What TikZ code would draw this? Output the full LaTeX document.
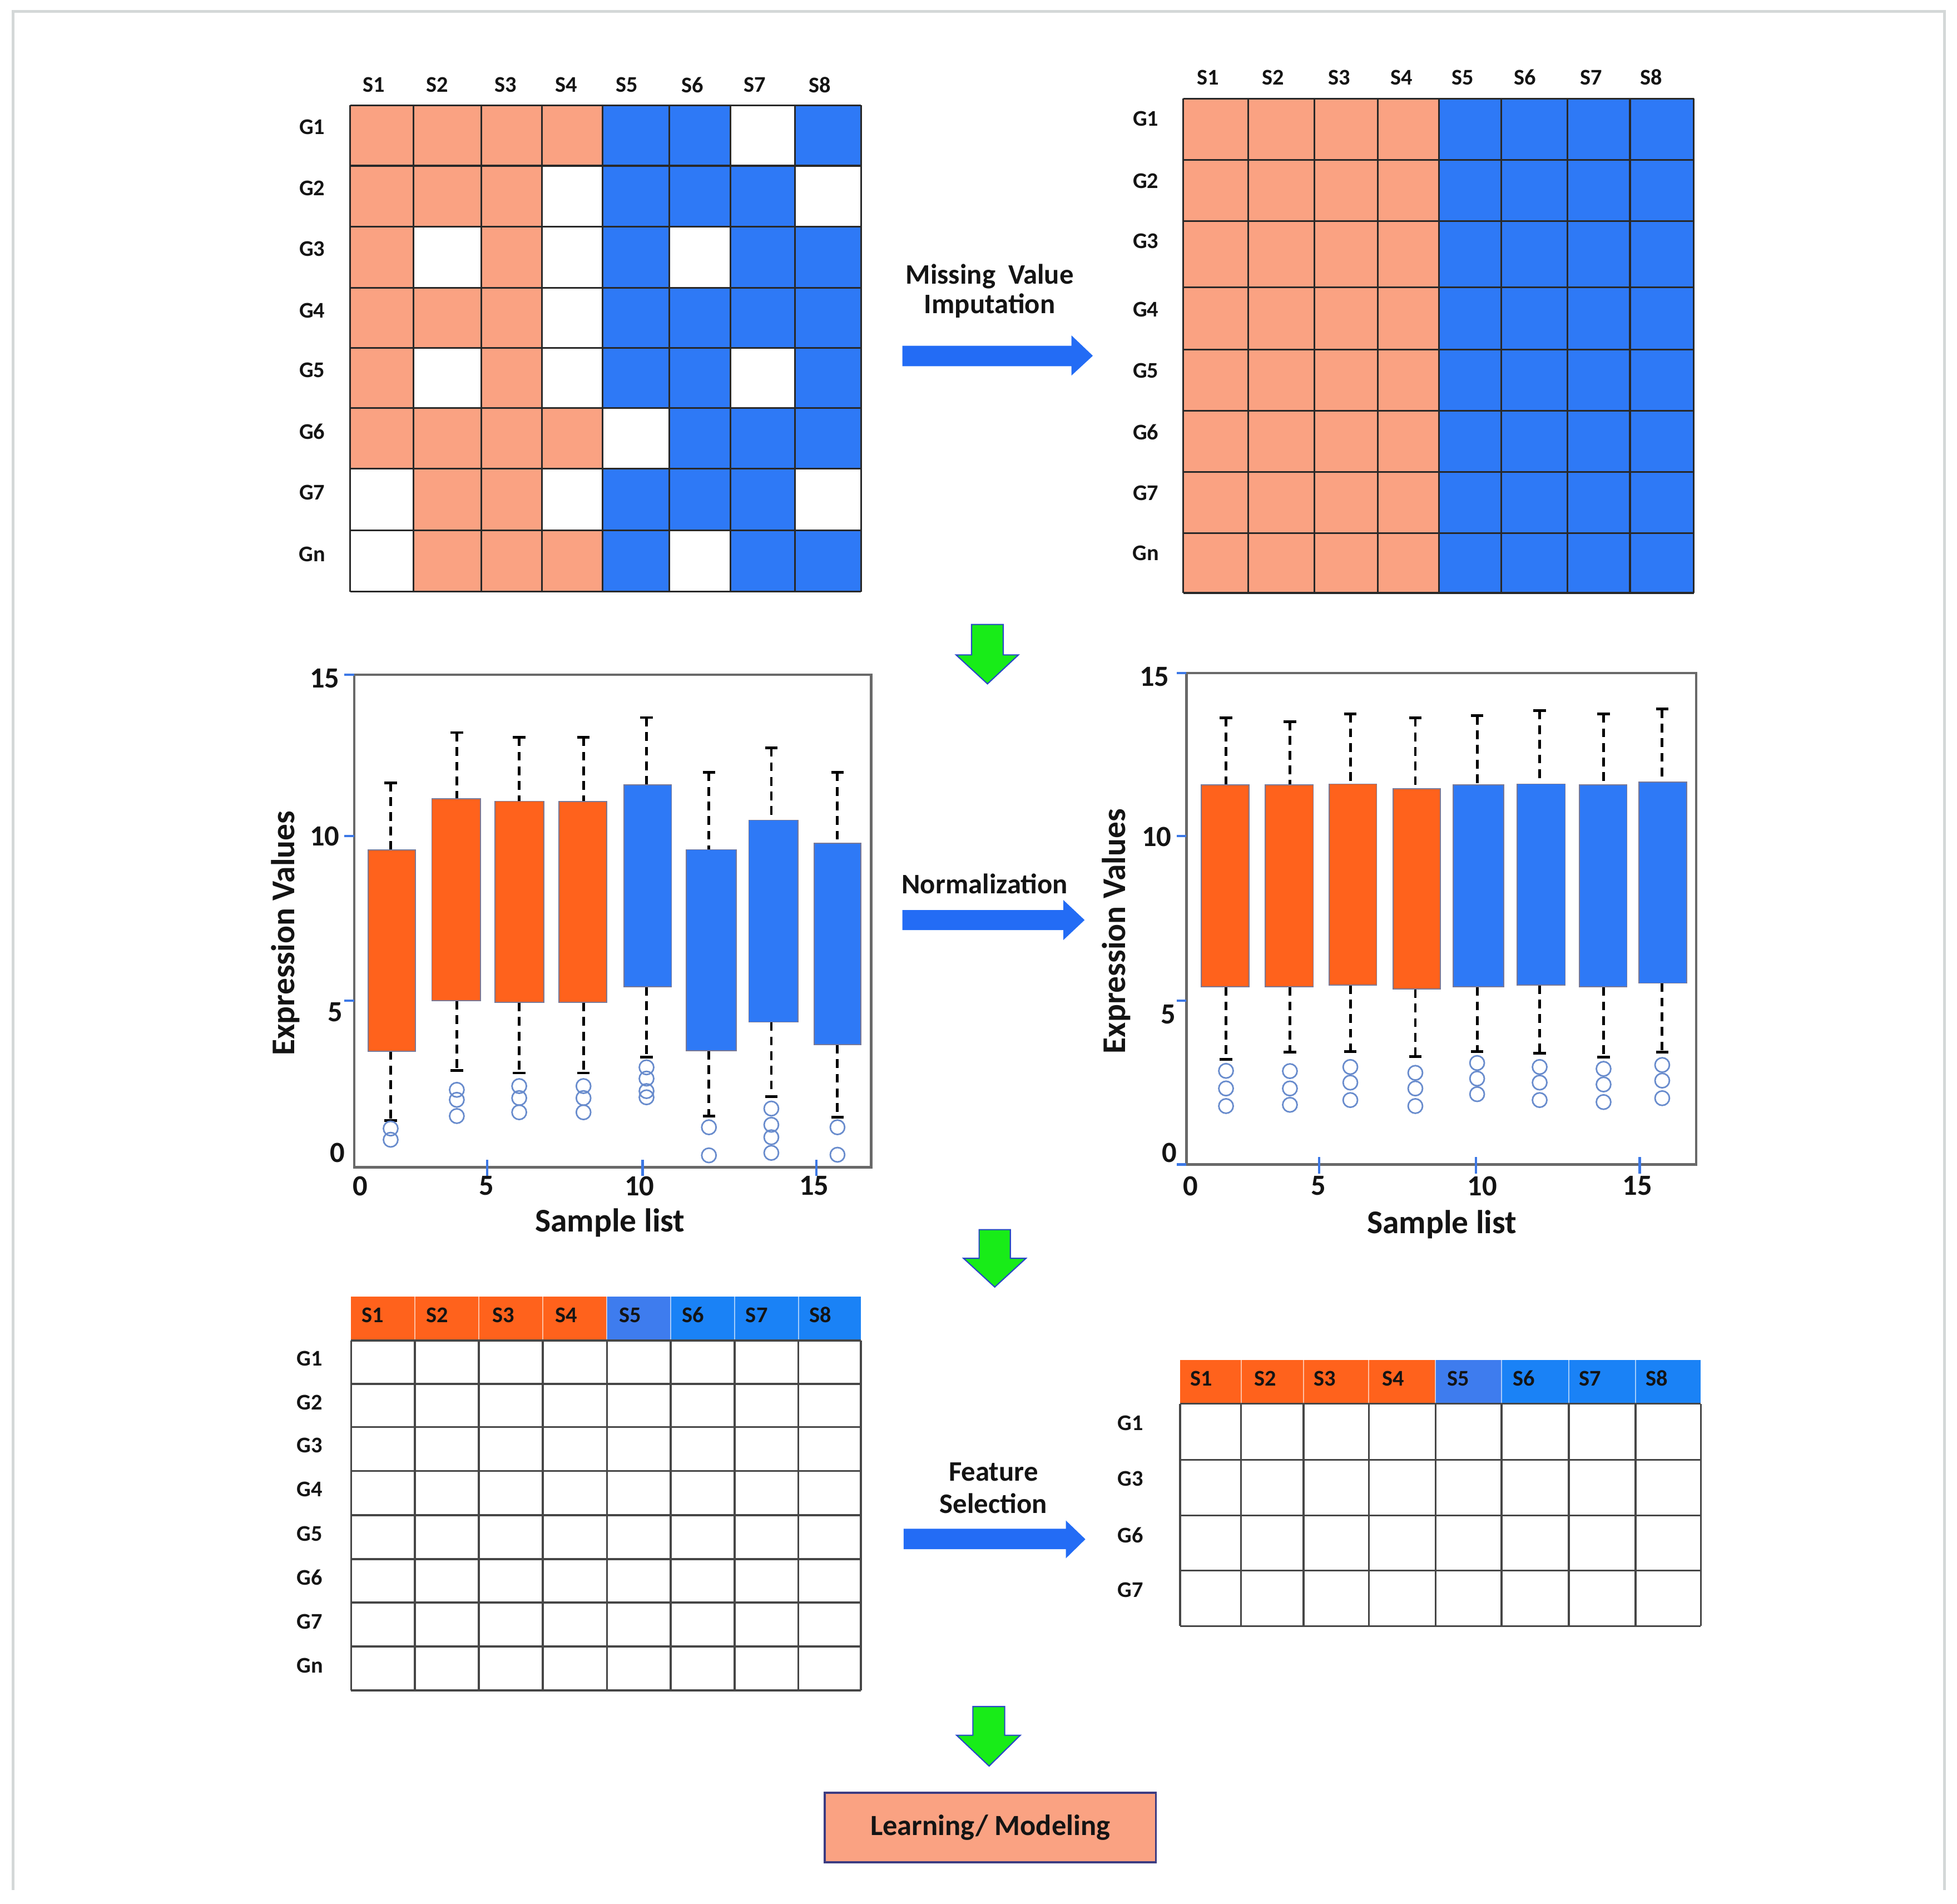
\documentclass[tikz,border=0pt]{standalone}
\usepackage{fontspec}
\setmainfont{Carlito}
\definecolor{salmon}{RGB}{250,162,130}
\definecolor{mblue}{RGB}{46,121,246}
\definecolor{borange}{RGB}{255,98,28}
\definecolor{hblueA}{RGB}{62,124,238}
\definecolor{hblueB}{RGB}{26,130,246}
\definecolor{arrblue}{RGB}{35,108,245}
\definecolor{agreen}{RGB}{24,236,24}
\definecolor{agreenedge}{RGB}{40,70,200}
\definecolor{gridc}{RGB}{40,40,40}
\definecolor{tgrid}{RGB}{70,70,70}
\definecolor{framec}{RGB}{212,216,216}
\definecolor{plotframe}{RGB}{105,105,105}
\definecolor{tickblue}{RGB}{60,120,230}
\definecolor{outc}{RGB}{105,140,205}
\definecolor{boxedge}{RGB}{120,120,150}
\definecolor{txt}{RGB}{20,20,20}
\definecolor{lmedge}{RGB}{60,60,130}
\newcommand{\myboxplot}[9]{%
  \draw[whisk] (#7,#5) -- (#7,#3);
  \draw[whisk] (#7,#4) -- (#7,#6);
  \draw[wcap] (#7-5,#5) -- (#7+5,#5);
  \draw[wcap] (#7-5,#6) -- (#7+5,#6);
  \filldraw[fill=#8, draw=boxedge, line width=0.5pt] (#1,#3) rectangle (#2,#4);
  \foreach \oy in {#9} \draw[outl] (#7,\oy) circle[radius=3.7pt];
}
\begin{document}
\begin{tikzpicture}[x=0.0225cm,y=-0.0225cm,
  lbl/.style={font=\fontsize{11.5}{12}\selectfont\bfseries, inner sep=0pt, text=txt},
  albl/.style={font=\fontsize{14.5}{16}\selectfont\bfseries, inner sep=0pt, text=txt},
  axl/.style={font=\fontsize{17}{19}\selectfont\bfseries, inner sep=0pt, text=txt},
  tkl/.style={font=\fontsize{15}{17}\selectfont\bfseries, inner sep=0pt, text=txt},
  grid1/.style={draw=gridc, line width=0.9pt},
  grid2/.style={draw=tgrid, line width=1pt},
  whisk/.style={draw=black, line width=1.4pt, dash pattern=on 4.5pt off 3pt},
  wcap/.style={draw=black, line width=1.4pt},
  outl/.style={draw=outc, line width=0.8pt},
  tickb/.style={draw=tickblue, line width=1.2pt},
  barrow/.style={fill=arrblue, draw=none},
  garrow/.style={fill=agreen, draw=agreenedge, line width=0.6pt, line join=miter},
]
\useasboundingbox (0,0) rectangle (1568,1525);
% outer frame (top, left, right)
\draw[framec, line width=1.4pt] (10.4,1514) -- (10.4,9) -- (1558,9) -- (1558,1514);

% ================= Panel 1: matrix with missing values =================
\fill[salmon] (280.6,84.3) rectangle (482.9,474);
\fill[mblue] (482.9,84.3) rectangle (689.8,474);
\foreach \xa/\ya/\xb/\yb in {585.1/84.3/637/132.8, 434.1/132.8/482.9/181.5, 637/132.8/689.8/181.5,
  331.1/181.5/385.6/230.5, 434.1/181.5/482.9/230.5, 536.4/181.5/585.1/230.5,
  434.1/230.5/482.9/278.6, 331.1/278.6/385.6/327, 434.1/278.6/482.9/327, 585.1/278.6/637/327,
  482.9/327/536.4/375.4, 280.6/375.4/331.1/424.7, 434.1/375.4/482.9/424.7, 637/375.4/689.8/424.7,
  280.6/424.7/331.1/474, 536.4/424.7/585.1/474}
  \fill[white] (\xa,\ya) rectangle (\xb,\yb);
\foreach \x in {280.6,331.1,385.6,434.1,482.9,536.4,585.1,637,689.8}
  \draw[grid1] (\x,84.3) -- (\x,474);
\foreach \y in {84.3,132.8,181.5,230.5,278.6,327,375.4,424.7,474}
  \draw[grid1] (280.6,\y) -- (689.8,\y);
\foreach \x/\t [count=\i] in {299.5/S1,350.5/S2,405/S3,453.5/S4,502.3/S5,555/S6,604.6/S7,656.8/S8}
  \node[lbl] (aS\i) at (\x,68.1) {\t};
\foreach \y/\t [count=\i] in {101.7/G1,151/G2,199.4/G3,248.7/G4,296.6/G5,345.9/G6,394.6/G7,443.8/Gn}
  \node[lbl] (aG\i) at (250,\y) {\t};

% ================= Panel 2: imputed matrix =================
\fill[salmon] (948,79) rectangle (1153,475);
\fill[mblue] (1153,79) rectangle (1357,475);
\foreach \x in {948,1000,1053,1104,1153,1203,1256,1306,1357}
  \draw[grid1] (\x,79) -- (\x,475);
\foreach \y in {79,128,177,230,280,329,378,427,475}
  \draw[grid1] (948,\y) -- (1357,\y);
\foreach \x/\t [count=\i] in {968/S1,1020/S2,1073/S3,1123/S4,1172/S5,1222/S6,1275/S7,1323/S8}
  \node[lbl] (bS\i) at (\x,62) {\t};
\foreach \y/\t [count=\i] in {95/G1,145/G2,193/G3,248/G4,297/G5,346/G6,395/G7,443/Gn}
  \node[lbl] (bG\i) at (918,\y) {\t};

% arrow: Missing Value Imputation
\node[albl] (mv1) at (793,221.3) {Missing\ \ Value};
\node[albl] (mv2) at (793,245) {Imputation};
\fill[barrow] (723,277) -- (858.5,277) -- (858.5,268.7) -- (875.6,285) -- (858.5,300.8) -- (858.5,293.3) -- (723,293.3) -- cycle;

% green arrow 1
\filldraw[garrow] (778.4,500.2) -- (803.8,500.2) -- (803.8,524.6) -- (816,524.6) -- (791.2,547.8) -- (766,524.6) -- (778.4,524.6) -- cycle;

% ================= Panel 3: boxplot before normalization =================
\draw[plotframe, line width=1.2pt] (284,540.5) rectangle (698,935);
\foreach \y in {540.5,669.7,801.6} \draw[tickb] (276,\y) -- (284,\y);
\foreach \x in {390.4,514.9,654} \draw[tickb] (\x,929) -- (\x,942);
\myboxplot{295}{333}{681}{842}{627}{897.5}{313}{borange}{904,913}
\myboxplot{346}{385}{640}{801.6}{586.8}{857.7}{366}{borange}{873,881,894}
\myboxplot{396.6}{435.8}{641.8}{803}{590.5}{859.5}{416}{borange}{870,879.6,891}
\myboxplot{447.7}{486}{642}{803}{590.5}{859.5}{467.5}{borange}{870,879.6,891}
\myboxplot{500}{538}{628.7}{790.5}{574.8}{846.9}{518}{mblue}{855,864,874,879}
\myboxplot{550}{590}{680.6}{841.6}{618.7}{894}{568}{mblue}{903,925.5}
\myboxplot{600}{639.4}{657}{818.7}{599}{878.6}{618}{mblue}{888,901,911,923.5}
\myboxplot{652.4}{689.8}{675.5}{836.8}{618.7}{895}{671}{mblue}{903,925}
\node[tkl] (c15) at (260.2,543.6) {15};
\node[tkl] (c10) at (260.2,670) {10};
\node[tkl] (c5) at (268.7,811) {5};
\node[tkl] (c0) at (270.4,923.5) {0};
\node[tkl] (cx0) at (288.5,950) {0};
\node[tkl] (cx5) at (389.7,950) {5};
\node[tkl] (cx10) at (512.4,950) {10};
\node[tkl] (cx15) at (652.3,950) {15};
\node[axl] (cxl) at (488.7,979.7) {Sample list};
\node[axl, rotate=90] (cyl) at (228.5,747.5) {Expression Values};

% arrow: Normalization
\node[albl] (norm) at (789,708) {Normalization};
\fill[barrow] (723,729) -- (852,729) -- (852,721) -- (869,737) -- (852,753) -- (852,745) -- (723,745) -- cycle;

% ================= Panel 4: boxplot after normalization =================
\draw[plotframe, line width=1.2pt] (950.6,539) rectangle (1359,932.8);
\foreach \y in {539,669.6,801.6,932.8} \draw[tickb] (943,\y) -- (950.6,\y);
\foreach \x in {1057,1182.5,1313.8} \draw[tickb] (\x,927) -- (\x,940);
\myboxplot{962.5}{1000.7}{628.7}{790.6}{575}{848.4}{982.3}{borange}{857.8,871.9,886}
\myboxplot{1013.7}{1052.2}{628.7}{790.6}{578}{843}{1033.5}{borange}{858,871.9,885}
\myboxplot{1064.8}{1103}{628}{789}{571.8}{842.2}{1081.9}{borange}{854.7,867.2,881.2}
\myboxplot{1116}{1154.2}{631.8}{792.2}{575}{846.2}{1134}{borange}{859.4,871.9,886}
\myboxplot{1164.4}{1204.7}{628.7}{790.6}{573.4}{842.2}{1183.5}{mblue}{851.5,864,876.5}
\myboxplot{1215.6}{1254.1}{628}{789}{569.3}{843.7}{1233.6}{mblue}{854.7,867.2,881.2}
\myboxplot{1265.3}{1303.5}{628.7}{790.6}{571.8}{846.9}{1284.8}{mblue}{856.2,868.7,882.8}
\myboxplot{1313}{1351.3}{626.5}{787.5}{568}{843}{1331.8}{mblue}{853.1,865.6,879.7}
\node[tkl] (d15) at (925,542) {15};
\node[tkl] (d10) at (926.7,670.2) {10};
\node[tkl] (d5) at (935.9,812.5) {5};
\node[tkl] (d0) at (937,923.4) {0};
\node[tkl] (dx0) at (954,950) {0};
\node[tkl] (dx5) at (1056.3,950) {5};
\node[tkl] (dx10) at (1187.6,950) {10};
\node[tkl] (dx15) at (1312,950) {15};
\node[axl] (dxl) at (1155.2,981) {Sample list};
\node[axl, rotate=90] (dyl) at (894.3,746) {Expression Values};

% green arrow 2
\filldraw[garrow] (784.5,985) -- (809.5,985) -- (809.5,1008) -- (822,1008) -- (797,1031) -- (772,1008) -- (784.5,1008) -- cycle;

% ================= Panel 5: full table =================
\foreach \xa/\xb/\c in {281.3/332.5/borange,332.5/383.6/borange,383.6/434.8/borange,434.8/486.3/borange,
  486.3/537.4/hblueA,537.4/588.6/hblueB,588.6/639.7/hblueB,639.7/689.8/hblueB}
  \fill[\c] (\xa,1038.6) rectangle (\xb,1073.9);
\foreach \x in {332.5,383.6,434.8,486.3,537.4,588.6,639.7}
  \draw[white, opacity=0.6, line width=0.6pt] (\x,1038.6) -- (\x,1073.9);
\foreach \x in {281.3,332.5,383.6,434.8,486.3,537.4,588.6,639.7,689.8}
  \draw[grid2] (\x,1073.9) -- (\x,1354.2);
\foreach \y in {1073.9,1108.7,1143.2,1178.4,1213.7,1248.9,1283.7,1318.9,1354.2}
  \draw[grid2] (281.3,\y) -- (689.8,\y);
\foreach \x/\t [count=\i] in {298.7/S1,350.5/S2,403.4/S3,453.5/S4,505/S5,555.1/S6,606.3/S7,657.4/S8}
  \node[lbl] (eS\i) at (\x,1053.4) {\t};
\foreach \y/\t [count=\i] in {1088.2/G1,1123.4/G2,1158/G3,1193.2/G4,1228.5/G5,1263.7/G6,1299/G7,1334.2/Gn}
  \node[lbl] (eG\i) at (248.2,\y) {\t};

% arrow: Feature Selection
\node[albl] (fs1) at (796,1179.3) {Feature};
\node[albl] (fs2) at (796,1204.5) {Selection};
\fill[barrow] (724,1224.6) -- (854,1224.6) -- (854,1218) -- (869.6,1233) -- (854,1248.3) -- (854,1241) -- (724,1241) -- cycle;

% ================= Panel 6: selected table =================
\foreach \xa/\xb/\c in {945.6/994.4/borange,994.4/1044.5/borange,1044.5/1096.7/borange,1096.7/1150.2/borange,
  1150.2/1203.1/hblueA,1203.1/1257/hblueB,1257/1310.5/hblueB,1310.5/1362.7/hblueB}
  \fill[\c] (\xa,1089.6) rectangle (\xb,1124.5);
\foreach \x in {994.4,1044.5,1096.7,1150.2,1203.1,1257,1310.5}
  \draw[white, opacity=0.6, line width=0.6pt] (\x,1089.6) -- (\x,1124.5);
\foreach \x in {945.6,994.4,1044.5,1096.7,1150.2,1203.1,1257,1310.5,1362.7}
  \draw[grid2] (\x,1124.5) -- (\x,1302.6);
\foreach \y in {1124.5,1169.5,1214,1258,1302.6}
  \draw[grid2] (945.6,\y) -- (1362.7,\y);
\foreach \x/\t [count=\i] in {962.7/S1,1013.8/S2,1061.6/S3,1116.1/S4,1168.3/S5,1220.8/S6,1274/S7,1327.5/S8}
  \node[lbl] (fS\i) at (\x,1104.2) {\t};
\foreach \y/\t [count=\i] in {1139.9/G1,1184.7/G3,1229.8/G6,1273.5/G7}
  \node[lbl] (fG\i) at (905.7,\y) {\t};

% green arrow 3
\filldraw[garrow] (779.5,1367) -- (805,1367) -- (805,1390) -- (817.5,1390) -- (792.5,1414.7) -- (766.4,1390) -- (779.5,1390) -- cycle;

% Learning / Modeling box
\node[draw=lmedge, fill=salmon, line width=1pt, minimum width=265.4*0.0225cm, minimum height=55.8*0.0225cm,
  font=\fontsize{15}{17}\selectfont\bfseries, text=txt, inner sep=0pt] (lm) at (793.5,1463.9) {Learning/ Modeling};
\end{tikzpicture}
\end{document}
